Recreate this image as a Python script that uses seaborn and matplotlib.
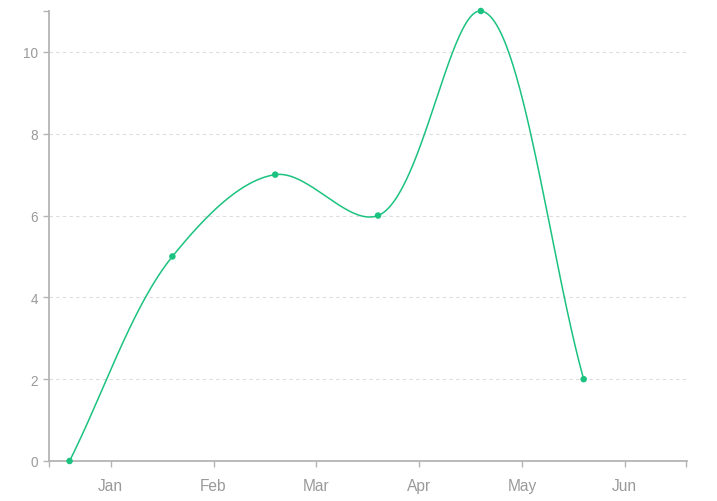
import numpy as np
import pandas as pd
import seaborn as sns
import matplotlib
matplotlib.use("Agg")
import matplotlib.pyplot as plt

# data
months = ['Jan', 'Feb', 'Mar', 'Apr', 'May', 'Jun']
point_x = [-0.4, 0.6, 1.6, 2.6, 3.6, 4.6]
values = [0, 5, 7, 6, 11, 2]

GREEN = '#1cc27f'
AXIS = '#b4b4b4'
TEXT = '#9a9a9a'

sns.set_style('white')
plt.rcParams['font.family'] = ['Liberation Sans', 'DejaVu Sans']

fig = plt.figure(figsize=(7.17, 5.02), dpi=100)
ax = fig.add_axes([48.5 / 717, 40 / 502, 638 / 717, 450 / 502])
XMIN, XMAX = -0.605, 5.6
ax.set_xlim(XMIN, XMAX)
ax.set_ylim(0, 11)


def catmull_rom(px, py, alpha=0.5, n=60):
    # centripetal catmull-rom through the given (pixel) points
    pts = np.column_stack([px, py]).astype(float)
    first = 2 * pts[0] - pts[1]
    last = 2 * pts[-1] - pts[-2]
    P = np.vstack([first, pts, last])
    out = []
    for i in range(1, len(P) - 2):
        p0, p1, p2, p3 = P[i - 1], P[i], P[i + 1], P[i + 2]
        t0 = 0.0
        t1 = t0 + np.linalg.norm(p1 - p0) ** alpha
        t2 = t1 + np.linalg.norm(p2 - p1) ** alpha
        t3 = t2 + np.linalg.norm(p3 - p2) ** alpha
        t = np.linspace(t1, t2, n)[:, None]
        a1 = (t1 - t) / (t1 - t0) * p0 + (t - t0) / (t1 - t0) * p1
        a2 = (t2 - t) / (t2 - t1) * p1 + (t - t1) / (t2 - t1) * p2
        a3 = (t3 - t) / (t3 - t2) * p2 + (t - t2) / (t3 - t2) * p3
        b1 = (t2 - t) / (t2 - t0) * a1 + (t - t0) / (t2 - t0) * a2
        b2 = (t3 - t) / (t3 - t1) * a2 + (t - t1) / (t3 - t1) * a3
        c = (t2 - t) / (t2 - t1) * b1 + (t - t1) / (t2 - t1) * b2
        out.append(c if i == 1 else c[1:])
    return np.vstack(out)


# smooth the line in screen space, like the original renderer
pix = ax.transData.transform(np.column_stack([point_x, values]))
curve = ax.transData.inverted().transform(catmull_rom(pix[:, 0], pix[:, 1]))
line_df = pd.DataFrame({'x': curve[:, 0], 'y': curve[:, 1]})
pts_df = pd.DataFrame({'x': point_x, 'y': values})

sns.lineplot(data=line_df, x='x', y='y', sort=False, estimator=None,
             color=GREEN, linewidth=1.1, ax=ax, zorder=3)
sns.scatterplot(data=pts_df, x='x', y='y', color=GREEN, s=22,
                edgecolor='none', ax=ax, zorder=4, clip_on=False)

# grid
for v in range(0, 11, 2):
    ax.axhline(v, color='#dcdcdc', linewidth=0.8, linestyle=(0, (3, 3)), zorder=1)

ax.set_xticks(range(len(months)))
ax.set_xticklabels(months)
ax.set_yticks(range(0, 11, 2))
ax.set_xticks([XMIN + 1e-6, XMAX - 1e-6], minor=True)
ax.set_yticks([11 - 1e-6], minor=True)

for s in ['top', 'right']:
    ax.spines[s].set_visible(False)
for s in ['left', 'bottom']:
    ax.spines[s].set_color(AXIS)
    ax.spines[s].set_linewidth(1.3)

ax.tick_params(axis='x', which='both', bottom=True, length=4.5, width=1,
               color=AXIS, labelcolor=TEXT, labelsize=11.2, pad=8)
ax.tick_params(axis='y', which='both', left=True, length=4.5, width=1,
               color=AXIS, labelcolor=TEXT, labelsize=9.8, pad=3)
ax.set_xlabel('')
ax.set_ylabel('')

fig.savefig('out.png', dpi=100)
